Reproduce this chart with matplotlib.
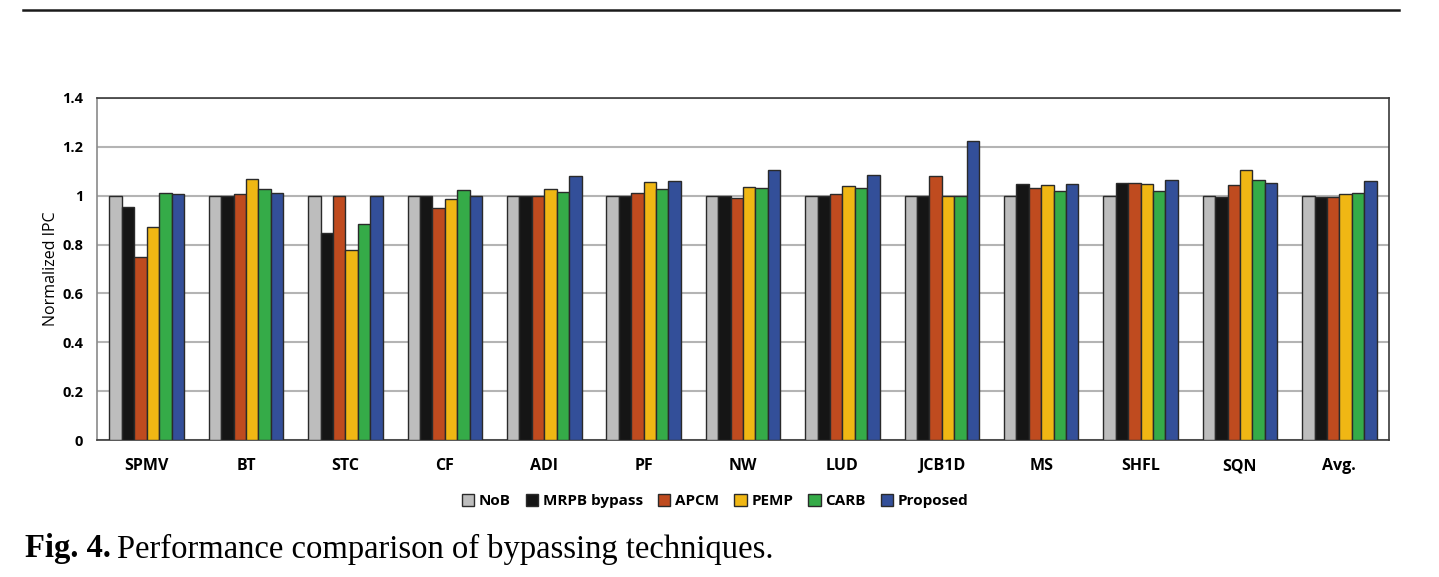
import numpy as np
import matplotlib.pyplot as plt
from matplotlib.lines import Line2D

benchmarks = ['SPMV', 'BT', 'STC', 'CF', 'ADI', 'PF', 'NW', 'LUD', 'JCB1D', 'MS', 'SHFL', 'SQN', 'Avg.']
schemes = ['NoB', 'MRPB bypass', 'APCM', 'PEMP', 'CARB', 'Proposed']

nob = [1.0, 1.0, 1.0, 1.0, 1.0, 1.0, 1.0, 1.0, 1.0, 1.0, 1.0, 1.0, 1.0]
mrpb = [0.952, 1.0, 0.847, 1.0, 1.0, 1.0, 1.0, 1.0, 1.0, 1.049, 1.051, 0.995, 0.993]
apcm = [0.751, 1.007, 1.0, 0.949, 1.0, 1.012, 0.992, 1.007, 1.081, 1.033, 1.052, 1.045, 0.993]
pemp = [0.873, 1.068, 0.776, 0.988, 1.026, 1.056, 1.037, 1.041, 1.0, 1.044, 1.048, 1.104, 1.005]
carb = [1.011, 1.027, 0.883, 1.023, 1.016, 1.026, 1.031, 1.030, 1.0, 1.020, 1.018, 1.066, 1.011]
proposed = [1.007, 1.011, 1.0, 1.0, 1.081, 1.059, 1.107, 1.085, 1.223, 1.046, 1.063, 1.053, 1.060]

series = [nob, mrpb, apcm, pemp, carb, proposed]
colors = ['#bdbdbd', '#151515', '#bf4b1f', '#f0b714', '#35ab48', '#334f99']

fig = plt.figure(figsize=(14.39, 5.77), dpi=100)
ax = fig.add_axes([0.0674, 0.2374, 0.8979, 0.5928])

x = np.arange(len(benchmarks))
w = 0.125
for i, (vals, c) in enumerate(zip(series, colors)):
    ax.bar(x + (i - 2.5) * w, vals, w, color=c, edgecolor='#2a2a2a', linewidth=1.0,
           label=schemes[i], zorder=3)

ax.set_xlim(-0.5, len(benchmarks) - 0.5)
ax.set_ylim(0, 1.4)
ax.set_yticks(np.arange(0, 1.41, 0.2))
ax.set_yticklabels(['0', '0.2', '0.4', '0.6', '0.8', '1', '1.2', '1.4'],
                   fontfamily='Open Sans', fontweight='bold', fontsize=10.5)
ax.set_xticks(x)
ax.set_xticklabels(benchmarks, fontfamily='Open Sans', fontweight='bold', fontsize=11.5)
ax.tick_params(axis='both', length=0)
ax.tick_params(axis='x', pad=13)
ax.tick_params(axis='y', pad=10)
ax.yaxis.grid(True, color='#b4b4b4', linewidth=1.5, zorder=0)
ax.set_axisbelow(True)
for s in ax.spines.values():
    s.set_color('#3a3a3a')
    s.set_linewidth(1.2)
ax.spines['left'].set_color('#8a8a8a')
ax.set_ylabel('Normalized IPC', fontfamily='Open Sans', fontsize=11.5, labelpad=2)

handles = [plt.Rectangle((0, 0), 1, 1, facecolor=c, edgecolor='#2a2a2a', linewidth=1.0) for c in colors]
fig.legend(handles, schemes, loc='center', bbox_to_anchor=(0.497, 0.131), ncol=6, frameon=False,
           prop={'family': 'Open Sans', 'weight': 'bold', 'size': 11},
           handlelength=0.8, handleheight=0.8, handletextpad=0.3, columnspacing=1.0)

# top rule and caption
fig.add_artist(Line2D([23 / 1439, 1399 / 1439], [1 - 10 / 577, 1 - 10 / 577],
                      color='#1a1a1a', linewidth=1.8, transform=fig.transFigure))
fig.text(25 / 1439, 1 - 549 / 577, 'Fig. 4.', fontfamily='Liberation Serif', fontweight='bold',
         fontsize=23.5, va='center', ha='left')
fig.text(117 / 1439, 1 - 549 / 577, 'Performance comparison of bypassing techniques.',
         fontfamily='Liberation Serif', fontsize=23.5, va='center', ha='left')

fig.savefig('out.png', dpi=100)
